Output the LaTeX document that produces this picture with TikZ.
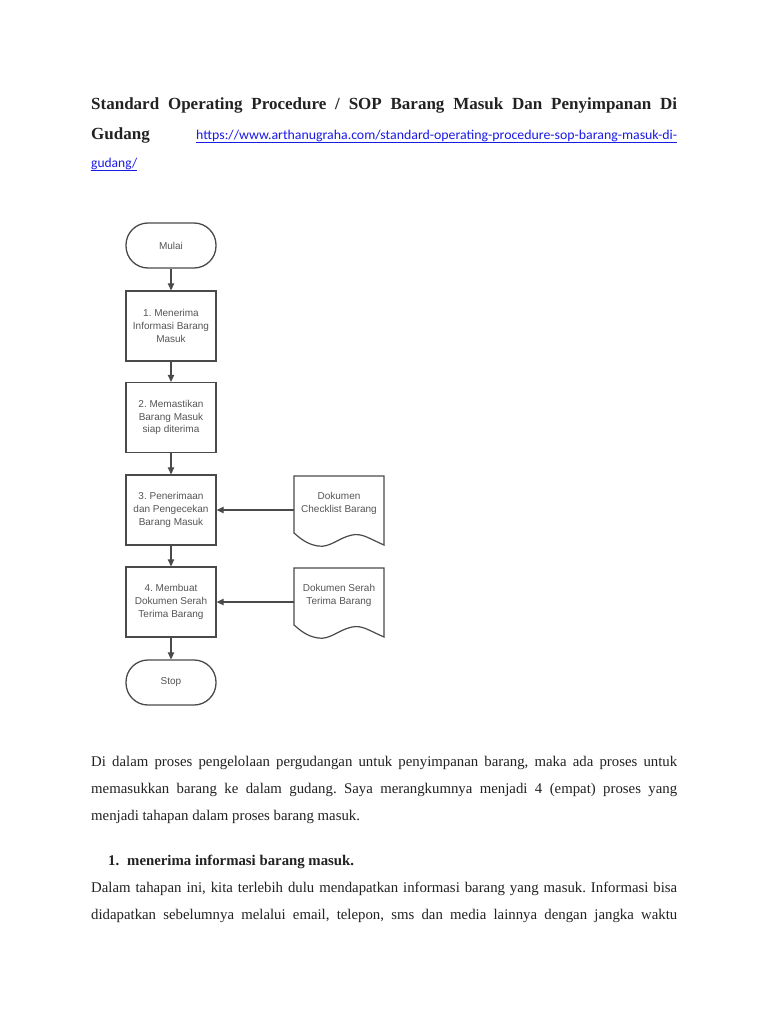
\documentclass[tikz,border=0pt]{standalone}
\usepackage{fontspec}
\setmainfont{Liberation Serif}
\newfontfamily\sansf{Liberation Sans}
\newfontfamily\urlf{Carlito}
\usetikzlibrary{arrows.meta}
\definecolor{linkblue}{HTML}{1A1AE6}
\definecolor{boxline}{HTML}{4A4A4A}
\definecolor{boxtext}{HTML}{555555}
\definecolor{bodytext}{HTML}{222222}
\frenchspacing
\tikzset{
  procbox/.style={draw=boxline, line width=1.3pt, fill=white, minimum width=90pt, minimum height=70pt, inner sep=2pt, align=center, font=\sansf\fontsize{10}{12.8}\selectfont, text=boxtext},
  termbox/.style={draw=boxline, line width=1.3pt, fill=white, minimum width=90pt, minimum height=45pt, rounded corners=22pt, align=center, font=\sansf\fontsize{10}{12.8}\selectfont, text=boxtext},
  doctext/.style={align=center, font=\sansf\fontsize{10}{13}\selectfont, text=boxtext, inner sep=0pt},
  flowarrow/.style={draw=boxline, line width=1.2pt, -{Triangle[length=7pt,width=6.5pt]}},
  docshape/.style={draw=boxline, line width=1.2pt, fill=white},
  bodyline/.style={anchor=base west, inner sep=0pt, text=bodytext, font=\fontsize{14.8}{17}\selectfont},
}
\begin{document}
\begin{tikzpicture}[x=1pt,y=-1pt]
\useasboundingbox[fill=white] (0,0) rectangle (768,1024);

% header
\node[anchor=base west, inner sep=0pt, text=bodytext, font=\fontsize{17}{20}\selectfont\bfseries] (t1) at (91,110)
  {\makebox[586pt][s]{Standard Operating Procedure / SOP Barang Masuk Dan Penyimpanan Di}};
\node[anchor=base west, inner sep=0pt, text=bodytext, font=\fontsize{17}{20}\selectfont\bfseries] (t2) at (91,140) {Gudang};
\node[anchor=base west, inner sep=0pt, text=linkblue] (url1) at (196,140)
  {\resizebox{481pt}{\height}{\urlf\fontsize{13.5}{16}\selectfont https://www.arthanugraha.com/standard-operating-procedure-sop-barang-masuk-di-}};
\draw[linkblue, line width=0.8pt] (196,142.5) -- (677,142.5);
\node[anchor=base west, inner sep=0pt, text=linkblue, font=\urlf\fontsize{13.5}{16}\selectfont] (url2) at (91,168) {gudang/};
\draw[linkblue, line width=0.8pt] (91,170.5) -- (137,170.5);

% flowchart
\node[termbox] (mulai) at (171,245.5) {Mulai};
\node[procbox] (s1) at (171,326) {1. Menerima\\Informasi Barang\\Masuk};
\node[procbox] (s2) at (171,417.5) {2. Memastikan\\Barang Masuk\\siap diterima};
\node[procbox] (s3) at (171,510) {3. Penerimaan\\dan Pengecekan\\Barang Masuk};
\node[procbox] (s4) at (171,602) {4. Membuat\\Dokumen Serah\\Terima Barang};
\node[termbox] (stop) at (171,682.5) {Stop};

% documents
\draw[docshape] (294,533) -- (294,476) -- (384,476) -- (384,545)
  .. controls (368,538) and (362,533) .. (352,535)
  .. controls (338,538) and (330,548) .. (318,546)
  .. controls (306,544) and (300,538) .. (294,533) -- cycle;
\coordinate (d1) at (294,510);
\node[doctext] (d1t) at (339,503.5) {Dokumen\\Checklist Barang};

\draw[docshape] (294,625) -- (294,568) -- (384,568) -- (384,637)
  .. controls (368,630) and (362,625) .. (352,627)
  .. controls (338,630) and (330,640) .. (318,638)
  .. controls (306,636) and (300,630) .. (294,625) -- cycle;
\coordinate (d2) at (294,602);
\node[doctext] (d2t) at (339,595) {Dokumen Serah\\Terima Barang};

\draw[flowarrow] (mulai) -- (s1);
\draw[flowarrow] (s1) -- (s2);
\draw[flowarrow] (s2) -- (s3);
\draw[flowarrow] (s3) -- (s4);
\draw[flowarrow] (s4) -- (stop);
\draw[flowarrow] (d1) -- (s3.east);
\draw[flowarrow] (d2) -- (s4.east);

% body text
\node[bodyline] (p1) at (91,766) {\makebox[586pt][s]{Di dalam proses pengelolaan pergudangan untuk penyimpanan barang, maka ada proses untuk}};
\node[bodyline] (p2) at (91,793) {\makebox[586pt][s]{memasukkan barang ke dalam gudang. Saya merangkumnya menjadi 4 (empat) proses yang}};
\node[bodyline] (p3) at (91,820) {menjadi tahapan dalam proses barang masuk.};
\node[bodyline, font=\fontsize{14.8}{17}\selectfont\bfseries] (n1) at (108,865) {1.};
\node[bodyline, font=\fontsize{14.8}{17}\selectfont\bfseries] (h1) at (127,865) {menerima informasi barang masuk.};
\node[bodyline] (p4) at (91,892) {\makebox[586pt][s]{Dalam tahapan ini, kita terlebih dulu mendapatkan informasi barang yang masuk. Informasi bisa}};
\node[bodyline] (p5) at (91,919) {\makebox[586pt][s]{didapatkan sebelumnya melalui email, telepon, sms dan media lainnya dengan jangka waktu}};
\end{tikzpicture}
\end{document}
